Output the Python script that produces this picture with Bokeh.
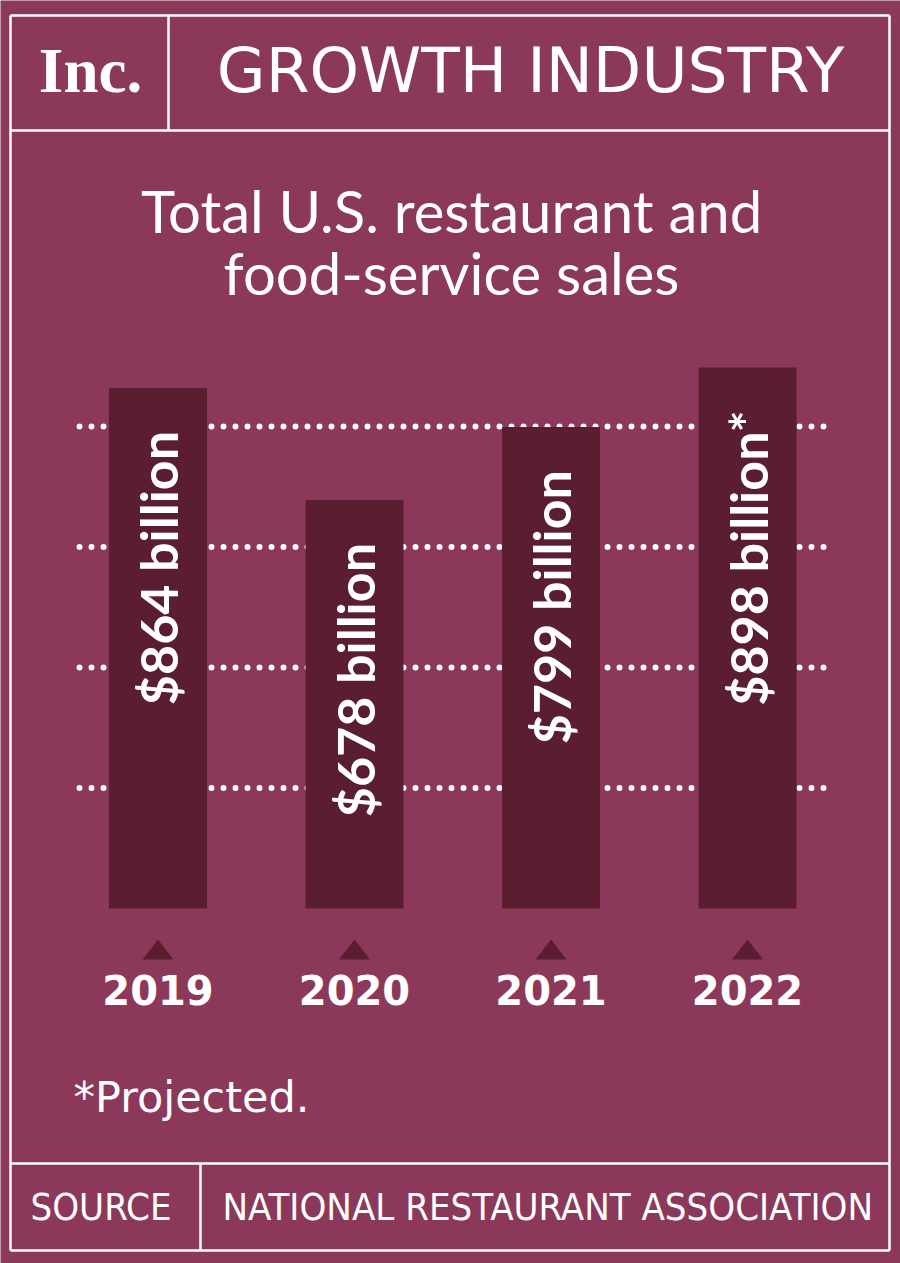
import numpy as np
from bokeh.plotting import figure
from bokeh.models import Range1d
from bokeh.core.properties import value
from bokeh.embed import file_html
from bokeh.resources import INLINE

# ---------------- data ----------------
years = [2019, 2020, 2021, 2022]
sales = [864, 678, 799, 898]  # billions of US dollars
value_labels = ["$864 billion", "$678 billion", "$799 billion", "$898 billion*"]
year_labels = ["2019", "2020", "2021", "2022"]
grid_values = [200, 400, 600, 800]

logo_text = "Inc."
header_text = "GROWTH INDUSTRY"
title_lines = ["Total U.S. restaurant and", "food-service sales"]
note_text = "*Projected."
source_label = "SOURCE"
source_text = "NATIONAL RESTAURANT ASSOCIATION"

# ---------------- styles / layout ----------------
W, H = 900, 1263
BG = "#8C385A"
BAR = "#5B1E31"
WHITE = "#FFFFFF"

BASE_PX = 908        # pixel row (from top) of the value 0
PX_PER_B = 0.6025    # pixels per billion
FIRST_X_PX = 157.5   # pixel column of first bar centre
STEP_PX = 196.5      # pixels between bar centres
BAR_W_PX = 98
BASELINE_FIX = 0.39  # renderer places alphabetic baseline ~0.39em low

y_start = -(H - BASE_PX) / PX_PER_B
y_end = BASE_PX / PX_PER_B
x_start = years[0] - FIRST_X_PX / STEP_PX
x_end = years[0] + (W - FIRST_X_PX) / STEP_PX

p = figure(width=W, height=H,
           x_range=Range1d(x_start, x_end), y_range=Range1d(y_start, y_end),
           x_axis_type=None, y_axis_type=None,
           output_backend="svg", toolbar_location=None,
           min_border=0, background_fill_color=BG, border_fill_color=BG,
           outline_line_color=None)
p.grid.visible = False
p.extra_x_ranges = {"px": Range1d(0, W)}
p.extra_y_ranges = {"px": Range1d(H, 0)}

# dotted reference lines (behind bars)
p.segment(x0=79, x1=829, y0=grid_values, y1=grid_values, x_range_name="px",
          line_color=WHITE, line_width=6, line_dash="0 12", line_cap="round")

# bars
p.vbar(x=years, top=sales, bottom=0, width=BAR_W_PX / STEP_PX,
       fill_color=BAR, line_color=None)

# rotated value labels inside bars
p.text(x=years, y=sales, text=value_labels, angle=np.pi / 2,
       text_align="right", text_baseline="middle", y_offset=43,
       text_color=WHITE, text_font=value("Lato"), text_font_style="bold",
       text_font_size="52px")

# small triangles under the bars
TRI_HALF = 15.5 / STEP_PX
TRI_TOP, TRI_BOT = 939, 959
tri_xs = [[yr - TRI_HALF, yr + TRI_HALF, yr] for yr in years]
tri_ys = [[TRI_BOT, TRI_BOT, TRI_TOP] for _ in years]
p.patches(tri_xs, tri_ys, y_range_name="px", fill_color=BAR, line_color=None)

# year labels
YEAR_SIZE = 40
p.text(x=years, y=[1005 - BASELINE_FIX * YEAR_SIZE] * len(years), y_range_name="px",
       text=year_labels, text_align="center", text_baseline="alphabetic",
       text_color=WHITE, text_font=value("DejaVu Sans"), text_font_style="bold",
       text_font_size=f"{YEAR_SIZE}px")

# frame lines
L, R, T, B = 10, 889, 15, 1250
HEAD_Y, FOOT_Y = 130, 1163
HEAD_DIV, FOOT_DIV = 168, 200
seg_x0 = [L, L, L, R, L, L, HEAD_DIV, FOOT_DIV]
seg_x1 = [R, R, L, R, R, R, HEAD_DIV, FOOT_DIV]
seg_y0 = [T, B, T, T, HEAD_Y, FOOT_Y, T, FOOT_Y]
seg_y1 = [T, B, B, B, HEAD_Y, FOOT_Y, HEAD_Y, B]
p.segment(x0=seg_x0, x1=seg_x1, y0=seg_y0, y1=seg_y1,
          x_range_name="px", y_range_name="px",
          line_color=WHITE, line_width=2.5)


def label(x, baseline, txt, size, font, align="center", style="normal"):
    p.text(x=[x], y=[baseline - BASELINE_FIX * size], text=[txt],
           x_range_name="px", y_range_name="px",
           text_align=align, text_baseline="alphabetic", text_color=WHITE,
           text_font=value(font), text_font_size=f"{size}px",
           text_font_style=style)


label(90, 95, logo_text, 63, "Liberation Serif", style="bold")
label(530, 95, header_text, 63, "DejaVu Sans")
label(451, 233, title_lines[0], 58, "Lato")
label(451, 295, title_lines[1], 58, "Lato")
label(73, 1113, note_text, 43, "DejaVu Sans", align="left")
label(30, 1221, source_label, 38, "DejaVu Sans Condensed", align="left")
label(222, 1221, source_text, 38, "DejaVu Sans Condensed", align="left")

open("out.html", "w").write(file_html(p, INLINE))
